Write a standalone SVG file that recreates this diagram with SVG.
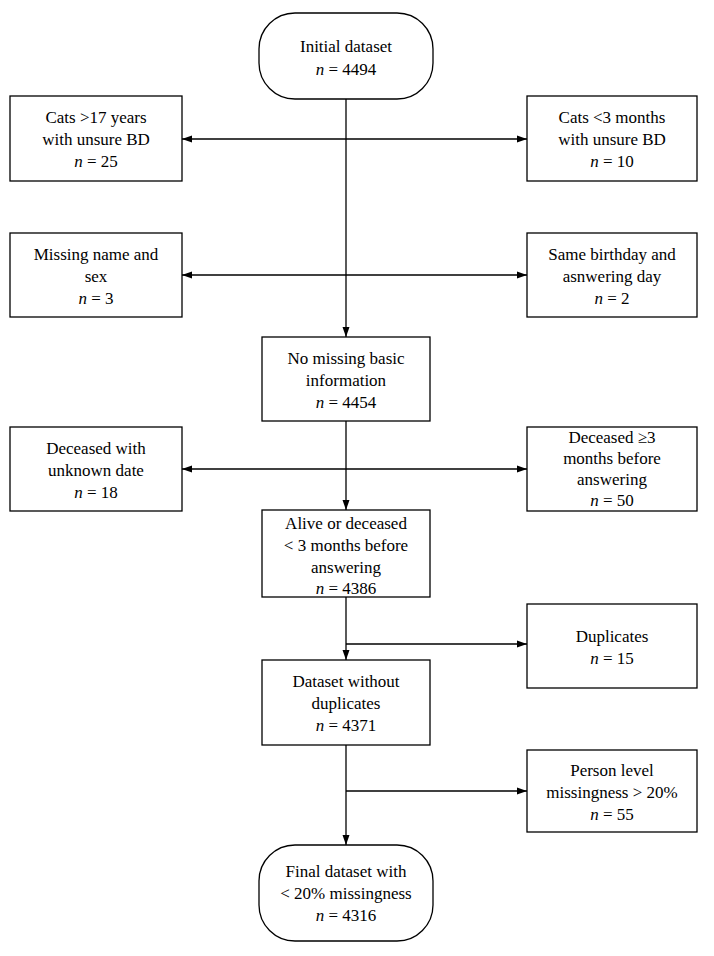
<svg xmlns="http://www.w3.org/2000/svg" width="714" height="956" viewBox="0 0 714 956">
<style>
.b{fill:#fff;stroke:#000;stroke-width:1.3}
.l{stroke:#000;stroke-width:1.3;fill:none}
text{font-family:"Liberation Serif",serif;font-size:17px;text-anchor:middle;fill:#000}
</style>
<defs><marker id="a" viewBox="0 0 10 10" refX="10" refY="5" markerWidth="8" markerHeight="8" orient="auto-start-reverse"><path d="M0,1.5L10,5L0,8.5z"/></marker></defs>
<rect width="714" height="956" fill="#fff"/>
<g id="connectors">
<path class="l" d="M346,99V337" marker-end="url(#a)"/>
<path class="l" d="M182,139H527" marker-start="url(#a)" marker-end="url(#a)"/>
<path class="l" d="M182,275H527" marker-start="url(#a)" marker-end="url(#a)"/>
<path class="l" d="M346,421V510" marker-end="url(#a)"/>
<path class="l" d="M182,469H527" marker-start="url(#a)" marker-end="url(#a)"/>
<path class="l" d="M346,597V660" marker-end="url(#a)"/>
<path class="l" d="M346,644H527" marker-end="url(#a)"/>
<path class="l" d="M346,745V845" marker-end="url(#a)"/>
<path class="l" d="M346,791H527" marker-end="url(#a)"/>
</g>
<g id="n1"><rect class="b" x="259" y="13" width="174" height="86" rx="36"/><text x="346" y="52">Initial dataset</text><text x="346" y="75"><tspan font-style="italic">n</tspan> = 4494</text></g>
<g id="n2"><rect class="b" x="10" y="96" width="172" height="85"/><text x="96" y="123">Cats &gt;17 years</text><text x="96" y="145">with unsure BD</text><text x="96" y="167"><tspan font-style="italic">n</tspan> = 25</text></g>
<g id="n3"><rect class="b" x="527" y="96" width="170" height="85"/><text x="612" y="123">Cats &lt;3 months</text><text x="612" y="145">with unsure BD</text><text x="612" y="167"><tspan font-style="italic">n</tspan> = 10</text></g>
<g id="n4"><rect class="b" x="10" y="233" width="172" height="84"/><text x="96" y="260">Missing name and</text><text x="96" y="282">sex</text><text x="96" y="304"><tspan font-style="italic">n</tspan> = 3</text></g>
<g id="n5"><rect class="b" x="527" y="233" width="170" height="84"/><text x="612" y="260">Same birthday and</text><text x="612" y="282">asnwering day</text><text x="612" y="304"><tspan font-style="italic">n</tspan> = 2</text></g>
<g id="n6"><rect class="b" x="262" y="337" width="168" height="84"/><text x="346" y="364">No missing basic</text><text x="346" y="386">information</text><text x="346" y="408"><tspan font-style="italic">n</tspan> = 4454</text></g>
<g id="n7"><rect class="b" x="10" y="427" width="172" height="84"/><text x="96" y="454">Deceased with</text><text x="96" y="476">unknown date</text><text x="96" y="498"><tspan font-style="italic">n</tspan> = 18</text></g>
<g id="n8"><rect class="b" x="527" y="427" width="170" height="84"/><text x="612" y="443">Deceased ≥3</text><text x="612" y="464">months before</text><text x="612" y="485">answering</text><text x="612" y="506"><tspan font-style="italic">n</tspan> = 50</text></g>
<g id="n9"><rect class="b" x="262" y="510" width="168" height="87"/><text x="346" y="529">Alive or deceased</text><text x="346" y="551">&lt; 3 months before</text><text x="346" y="573">answering</text><text x="346" y="594"><tspan font-style="italic">n</tspan> = 4386</text></g>
<g id="n10"><rect class="b" x="527" y="604" width="170" height="84"/><text x="612" y="642">Duplicates</text><text x="612" y="664"><tspan font-style="italic">n</tspan> = 15</text></g>
<g id="n11"><rect class="b" x="262" y="660" width="168" height="85"/><text x="346" y="687">Dataset without</text><text x="346" y="709">duplicates</text><text x="346" y="731"><tspan font-style="italic">n</tspan> = 4371</text></g>
<g id="n12"><rect class="b" x="527" y="750" width="170" height="82"/><text x="612" y="776">Person level</text><text x="612" y="798">missingness &gt; 20%</text><text x="612" y="820"><tspan font-style="italic">n</tspan> = 55</text></g>
<g id="n13"><rect class="b" x="259" y="845" width="174" height="96" rx="36"/><text x="346" y="877">Final dataset with</text><text x="346" y="899">&lt; 20% missingness</text><text x="346" y="921"><tspan font-style="italic">n</tspan> = 4316</text></g>
</svg>
